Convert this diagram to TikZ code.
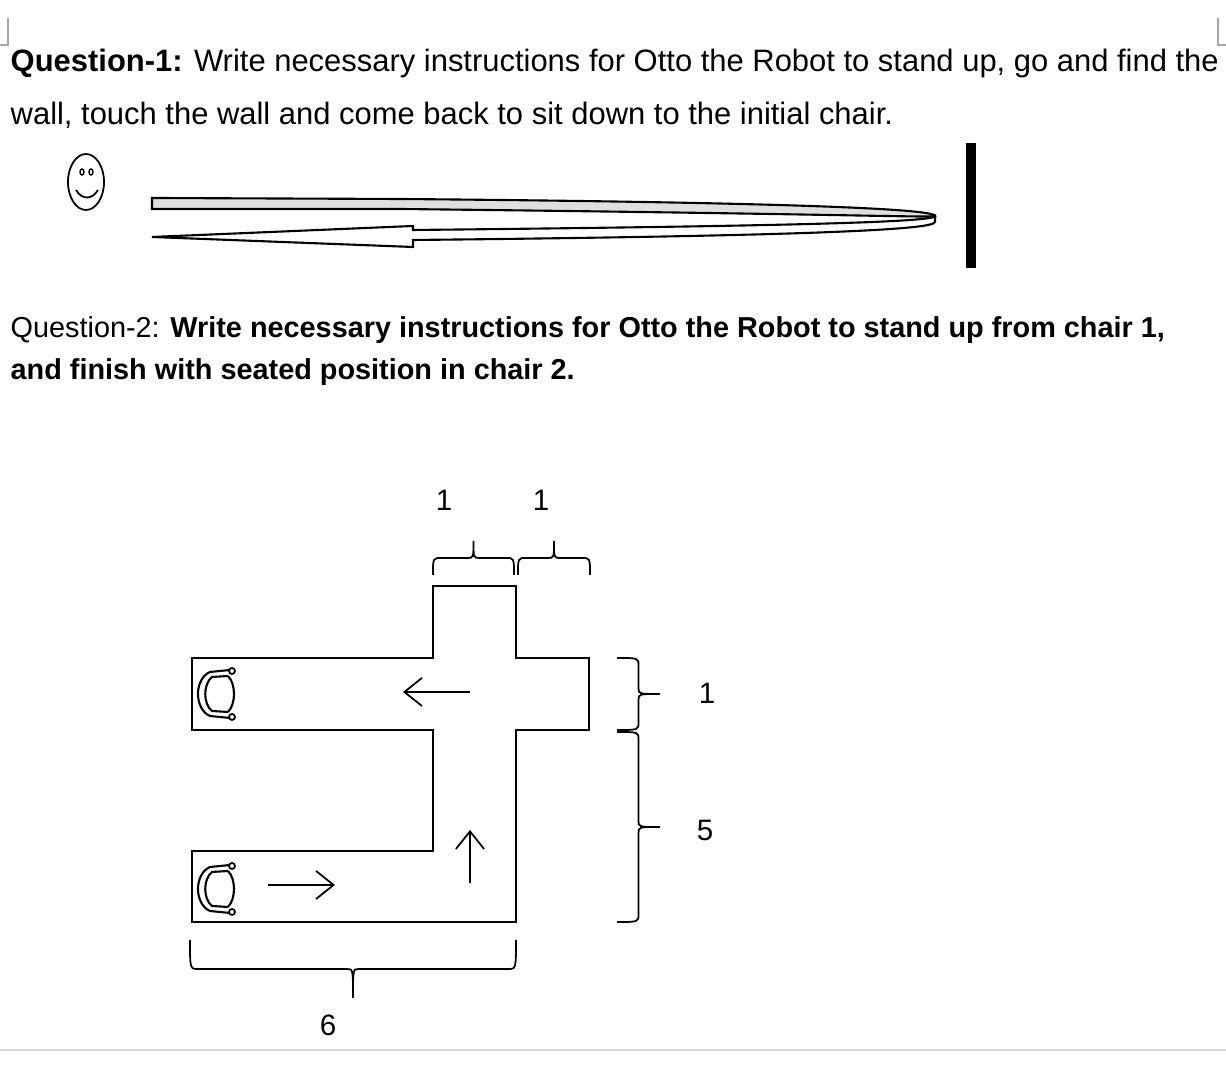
\documentclass[tikz,border=0pt]{standalone}
\usepackage{fontspec}
\setmainfont{Liberation Sans}
\usetikzlibrary{arrows.meta}
% horizontal brace: x1, x2, y(base), d (signed height to tip)
\newcommand\myhbrace[4]{%
  \draw[brc] (#1,#3) .. controls (#1,#3+0.5*#4) .. (#1+8,#3+0.5*#4) -- ({(#1+#2)/2-6},#3+0.5*#4)
    .. controls ({(#1+#2)/2},#3+0.5*#4) .. ({(#1+#2)/2},#3+#4)
    .. controls ({(#1+#2)/2},#3+0.5*#4) .. ({(#1+#2)/2+6},#3+0.5*#4) -- (#2-8,#3+0.5*#4)
    .. controls (#2,#3+0.5*#4) .. (#2,#3);}
\newcommand\myvbrace[4]{%
  \draw[brc] (#3,#1) .. controls (#3+0.5*#4,#1) .. (#3+0.5*#4,#1+8) -- (#3+0.5*#4,{(#1+#2)/2-6})
    .. controls (#3+0.5*#4,{(#1+#2)/2}) .. (#3+#4,{(#1+#2)/2})
    .. controls (#3+0.5*#4,{(#1+#2)/2}) .. (#3+0.5*#4,{(#1+#2)/2+6}) -- (#3+0.5*#4,#2-8)
    .. controls (#3+0.5*#4,#2) .. (#3,#2);}
\begin{document}
\begin{tikzpicture}[x=0.01cm,y=-0.01cm,
  txt/.style={anchor=base west,inner sep=0pt,font=\fontsize{8.8pt}{10pt}\selectfont},
  txtb/.style={anchor=base west,inner sep=0pt,font=\fontsize{8.2pt}{10pt}\selectfont},
  num/.style={inner sep=0pt,font=\fontsize{8.4pt}{10pt}\selectfont},
  brc/.style={line width=0.5pt},
  mv/.style={-{Straight Barb[length=5pt,width=8pt]},line width=0.5pt}]
\useasboundingbox (0,0) rectangle (1226,1080);
% corner marks
\draw[gray!70,line width=0.4pt] (8,18)--(8,45)--(0,45) (1218,18)--(1218,45)--(1226,45);
% Question 1
\node[txt] (q1a) at (10,72) {\textbf{Question-1:} Write necessary instructions for Otto the Robot to stand up, go and find the};
\node[txt] (q1b) at (10,125) {wall, touch the wall and come back to sit down to the initial chair.};
% smiley
\draw[line width=0.5pt] (86,182) ellipse (18 and 28);
\draw[line width=0.4pt] (82,172) ellipse (2 and 3) (91,172) ellipse (2 and 3);
\draw[line width=0.5pt] (76,190) .. controls (82,200) and (92,200) .. (98,190);
% round trip arrow
\draw[line width=0.6pt,fill=gray!25] (152,198) -- (400,199) .. controls (750,202) and (935,208) .. (935,216)
  .. controls (935,218) and (850,214) .. (400,209) -- (152,209) -- cycle;
\draw[line width=0.6pt,fill=white] (935,216) .. controls (935,222) and (800,226) .. (413,230) -- (413,226)
  -- (152,237) -- (413,247) -- (413,240) .. controls (800,236) and (935,230) .. (935,222) -- cycle;
\fill (966,143) rectangle (976,268);
% Question 2
\node[txtb] (q2a) at (10,338) {Question-2: \textbf{Write necessary instructions for Otto the Robot to stand up from chair 1,}};
\node[txtb] (q2b) at (10,380) {\textbf{and finish with seated position in chair 2.}};
% corridor
\draw[line width=0.6pt] (192,658)--(433,658)--(433,586)--(516,586)--(516,658)--(589,658)--(589,730)--(516,730)
  --(516,922)--(192,922)--(192,851)--(433,851)--(433,730)--(192,730)--cycle;
% chairs
\foreach \y in {667,862}{
  \draw[line width=0.6pt] (230,\y+3) -- (210,\y+5) .. controls (194,\y+12) and (194,\y+42) .. (210,\y+49) -- (230,\y+51);
  \draw[line width=0.6pt] (228,\y+9) -- (212,\y+10) .. controls (203,\y+17) and (203,\y+37) .. (212,\y+44) -- (228,\y+45);
  \draw[line width=0.6pt] (228,\y+9) .. controls (236,\y+17) and (236,\y+37) .. (228,\y+45);
  \draw[line width=0.5pt] (232,\y+4) circle (3) (232,\y+50) circle (3);
}
% motion arrows
\coordinate (a1s) at (470,692); \coordinate (a1e) at (403,692);
\coordinate (a2s) at (268,885); \coordinate (a2e) at (335,885);
\coordinate (a3s) at (470,883); \coordinate (a3e) at (470,830);
\draw[mv] (a1s) -- (a1e);
\draw[mv] (a2s) -- (a2e);
\draw[mv] (a3s) -- (a3e);
% braces
\myhbrace{433}{514}{575}{-34}
\myhbrace{518}{590}{575}{-34}
\myvbrace{658}{730}{617}{43}
\myvbrace{732}{922}{617}{43}
\myhbrace{190}{516}{940}{58}
\node[num] (l1) at (444,500) {1};
\node[num] (l2) at (541,500) {1};
\node[num] (l3) at (707,693) {1};
\node[num] (l4) at (705,830) {5};
\node[num] (l5) at (328,1025) {6};
\draw[gray!30,line width=0.4pt] (0,1050)--(1226,1050);
\end{tikzpicture}
\end{document}
